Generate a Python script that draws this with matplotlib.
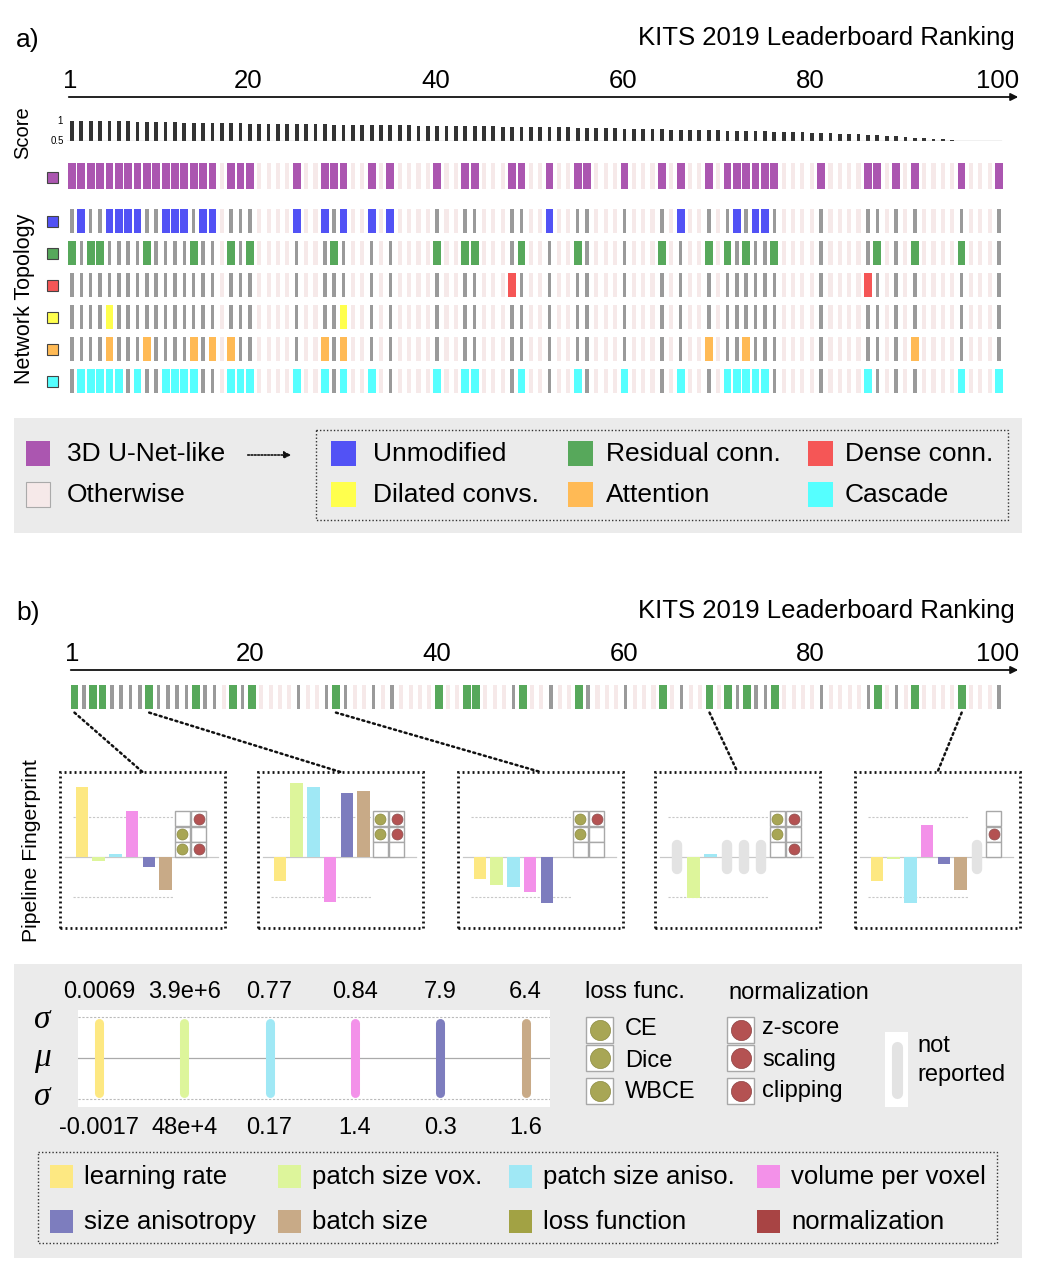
import numpy as np
import matplotlib.pyplot as plt
from matplotlib.patches import Rectangle, ConnectionPatch

plt.rcParams['font.family'] = ['Liberation Sans', 'DejaVu Sans']

W, H = 1040, 1280

# ---------------- data ----------------
ranks = np.arange(1, 101)
rank_ticks = [1, 20, 40, 60, 80, 100]

# leaderboard score (baseline of the score strip is 0.5)
scores = [1.0, 1.0, 1.0, 1.0, 1.0, 1.0, 1.0, 0.983, 0.983, 0.975,
          0.975, 0.975, 0.967, 0.967, 0.958, 0.958, 0.95, 0.95, 0.95, 0.942,
          0.942, 0.942, 0.933, 0.933, 0.933, 0.925, 0.925, 0.925, 0.917, 0.917,
          0.917, 0.908, 0.908, 0.908, 0.9, 0.9, 0.9, 0.892, 0.892, 0.892,
          0.883, 0.883, 0.883, 0.875, 0.875, 0.875, 0.867, 0.867, 0.858, 0.858,
          0.858, 0.85, 0.85, 0.85, 0.842, 0.842, 0.833, 0.833, 0.825, 0.817,
          0.817, 0.808, 0.808, 0.8, 0.792, 0.792, 0.783, 0.783, 0.775, 0.775,
          0.767, 0.767, 0.758, 0.758, 0.75, 0.742, 0.742, 0.733, 0.725, 0.717,
          0.708, 0.7, 0.692, 0.683, 0.675, 0.667, 0.65, 0.633, 0.625, 0.608,
          0.592, 0.575, 0.567, 0.55, 0.533, 0.517, 0.5, 0.5, 0.5, 0.5]

unet_like = [1, 2, 3, 4, 5, 6, 7, 8, 9, 10, 11, 12, 13, 14, 15, 16, 18, 19, 20,
             25, 28, 29, 30, 33, 35, 40, 43, 44, 48, 49, 52, 55, 56, 60, 64, 66,
             69, 71, 72, 73, 74, 75, 76, 81, 86, 87, 89, 91, 96, 100]

topology_names = ['Unmodified', 'Residual conn.', 'Dense conn.',
                  'Dilated convs.', 'Attention', 'Cascade']
unmodified = [2, 5, 6, 7, 8, 11, 12, 13, 15, 16, 25, 28, 30, 33, 35, 52, 66, 72, 74, 75]
residual = [1, 3, 4, 9, 14, 18, 20, 29, 40, 43, 44, 49, 55, 64, 69, 71, 73, 76, 87, 91, 96]
dense = [48, 86]
dilated = [5, 30]
attention = [5, 9, 14, 16, 18, 28, 30, 69, 73, 91]
cascade = [2, 3, 4, 5, 6, 8, 11, 12, 13, 14, 18, 19, 20, 25, 28, 30, 33, 40, 43, 44,
           49, 55, 60, 66, 71, 72, 73, 74, 75, 86, 96, 100]
topologies = [unmodified, residual, dense, dilated, attention, cascade]

# pipeline fingerprints (values in units of sigma, nan = not reported)
fp_ranks = [1, 9, 29, 69, 96]
hp_names = ['learning rate', 'patch size vox.', 'patch size aniso.',
            'volume per voxel', 'size anisotropy', 'batch size']
nan = np.nan
fp_values = [[1.74, -0.10, 0.08, 1.16, -0.25, -0.82],
             [-0.61, 1.85, 1.75, -1.13, 1.59, 1.64],
             [-0.55, -0.69, -0.76, -0.87, -1.15, 0.0],
             [nan, -1.03, 0.07, nan, nan, nan],
             [-0.60, -0.06, -1.16, 0.80, -0.18, -0.82]]
loss_names = ['CE', 'Dice', 'WBCE']
norm_names = ['z-score', 'scaling', 'clipping']
fp_loss = [[0, 1, 1], [1, 1, 0], [1, 1, 0], [1, 1, 0], None]
fp_norm = [[1, 0, 1], [1, 1, 0], [1, 0, 0], [1, 0, 1], [0, 1, 0]]

sigma_hi = ['0.0069', '3.9e+6', '0.77', '0.84', '7.9', '6.4']
sigma_lo = ['-0.0017', '48e+4', '0.17', '1.4', '0.3', '1.6']

# ---------------- colours ----------------
c_unet = '#AB56B0'
c_other = '#F6E9E9'
c_gray = '#9A9A9A'
topo_colors = ['#5252F5', '#57A85B', '#F55656', '#FFFF4D', '#FFBA55', '#55FFFF']
hp_colors = ['#FDE882', '#DDF59B', '#A0E8F5', '#F391E9', '#7D7DBE', '#C8AA87']
c_loss = '#A8A655'
c_norm = '#B45252'
c_loss_leg = '#A2A244'
c_norm_leg = '#A84444'
c_pill = '#E3E3E3'

fig = plt.figure(figsize=(W / 100, H / 100), dpi=100)

ov = fig.add_axes([0, 0, 1, 1])
ov.set_xlim(0, W)
ov.set_ylim(H, 0)
ov.axis('off')


def px_axes(x0, y0, x1, y1):
    return fig.add_axes([x0 / W, 1 - y1 / H, (x1 - x0) / W, (y1 - y0) / H])


def rank_axes(x0, x1, y0, y1):
    ax = px_axes(x0, y0, x1, y1)
    ax.set_xlim(0.5, 100.5)
    ax.set_ylim(0, 1)
    ax.axis('off')
    return ax


def barcode(ax, member, color):
    member = set(member)
    unet = set(unet_like)
    wide = [r for r in ranks if r in unet and r in member]
    grey = [r for r in ranks if r in unet and r not in member]
    light = [r for r in ranks if r not in unet]
    ax.bar(light, 1, width=0.44, color=c_other)
    ax.bar(grey, 1, width=0.38, color=c_gray)
    ax.bar(wide, 1, width=0.84, color=color)


def rank_labels(x0, x1, yc):
    ax = rank_axes(x0, x1, yc - 14, yc + 14)
    for t in rank_ticks:
        ax.text(t - 0.2, 0.5, str(t), ha='center', va='center', fontsize=18.5)


# ================= panel a =================
ov.text(16, 40, 'a)', fontsize=19, va='center')
ov.text(1015, 38, 'KITS 2019 Leaderboard Ranking', fontsize=18.5, ha='right', va='center')
ax_x0, ax_x1 = 67.3, 1003.7
rank_labels(ax_x0, ax_x1, 81)
ov.annotate('', xy=(1021, 97), xytext=(66, 97),
            arrowprops=dict(arrowstyle='-|>', color='#111111', lw=1.3, mutation_scale=11))

# score strip
sax = px_axes(ax_x0, 121.3, ax_x1, 141.3)
sax.set_xlim(0.5, 100.5)
sax.set_ylim(0.5, 1.0)
sax.axis('off')
sax.axhline(0.5, color='#8A8A8A', lw=0.9, xmax=0.997)
sc = np.array(scores)
sax.bar(ranks, sc - 0.5, bottom=0.5, width=0.4, color='#333333')
sax.text(-0.005, 1.0, '1', transform=sax.get_yaxis_transform(), ha='right', va='center', fontsize=7)
sax.text(-0.003, 0.5, '0.5', transform=sax.get_yaxis_transform(), ha='right', va='center', fontsize=7)
ov.text(23, 133, 'Score', rotation=90, ha='center', va='center', fontsize=14.5)

# 3D U-Net-like row
uax = rank_axes(ax_x0, ax_x1, 163, 189)
barcode(uax, unet_like, c_unet)
ov.add_patch(Rectangle((47, 171.5), 11, 11, fc=c_unet, ec='#444444', lw=0.8))

# topology rows
for i, (members, col) in enumerate(zip(topologies, topo_colors)):
    y0 = 209 + 32 * i
    tax = rank_axes(ax_x0, ax_x1, y0, y0 + 24)
    barcode(tax, members, col)
    ov.add_patch(Rectangle((47, y0 + 6.5), 11, 11, fc=col, ec='#444444', lw=0.8))
ov.text(25, 299, 'Network Topology', rotation=90, ha='center', va='center', fontsize=15.5)

# legend a
ov.add_patch(Rectangle((14, 418), 1008, 115, fc='#EBEBEB', ec='none'))
ov.add_patch(Rectangle((26, 441), 24, 25, fc=c_unet, ec='none'))
ov.add_patch(Rectangle((26, 482), 24, 25, fc=c_other, ec='#AAAAAA', lw=0.8))
ov.text(67, 454, '3D U-Net-like', fontsize=19, va='center')
ov.text(67, 495, 'Otherwise', fontsize=19, va='center')
ov.annotate('', xy=(294, 455), xytext=(245, 455),
            arrowprops=dict(arrowstyle='-|>', color='#111111', lw=1.2, ls=(0, (1, 1)),
                            mutation_scale=10))
ov.add_patch(Rectangle((316, 430), 692, 90, fc='none', ec='#333333', lw=1.0, ls=(0, (1, 1.5))))
leg_x = [331, 568, 808]
leg_tx = [373, 606, 845]
for i, (name, col) in enumerate(zip(topology_names, topo_colors)):
    cy = 441 if i < 3 else 482
    ov.add_patch(Rectangle((leg_x[i % 3], cy), 25, 25, fc=col, ec='none'))
    ov.text(leg_tx[i % 3], cy + 13, name, fontsize=19, va='center')

# ================= panel b =================
ov.text(16, 613, 'b)', fontsize=19, va='center')
ov.text(1015, 611, 'KITS 2019 Leaderboard Ranking', fontsize=18.5, ha='right', va='center')
bx0, bx1 = 69.8, 1003.7
rank_labels(bx0, bx1, 654)
ov.annotate('', xy=(1021, 670), xytext=(68, 670),
            arrowprops=dict(arrowstyle='-|>', color='#111111', lw=1.3, mutation_scale=11))
bax = rank_axes(bx0, bx1, 685, 709)
barcode(bax, residual, topo_colors[1])

box_left = [60, 258, 458, 655, 855]
row_c = [0.96, 0.575, 0.19]
for b in range(5):
    x0 = box_left[b]
    fax = px_axes(x0, 772, x0 + 165, 928)
    fax.set_xlim(-1.32, 8.56)
    fax.set_ylim(-1.775, 2.125)
    fax.set_xticks([])
    fax.set_yticks([])
    for s in fax.spines.values():
        s.set_visible(False)
    fax.add_patch(Rectangle((0, 0), 1, 1, transform=fax.transAxes, fc='none', ec='#111111',
                            lw=2.0, ls=(0, (0.7, 1.1)), clip_on=False))
    fax.plot([-1.0, 8.14], [0, 0], color='#C8C8C8', lw=0.9, zorder=1)
    for yy in (1, -1):
        fax.plot([-0.54, 5.45], [yy, yy], color='#C8C8C8', lw=0.8, ls=(0, (2, 1.5)), zorder=1)
    for k, v in enumerate(fp_values[b]):
        if np.isnan(v):
            fax.plot([k, k], [-0.3, 0.3], lw=7.5, color=c_pill, solid_capstyle='round', zorder=2)
        else:
            fax.bar(k, v, width=0.76, color=hp_colors[k], zorder=2)
    cols = [(6, fp_loss[b], c_loss), (7, fp_norm[b], c_norm)]
    for slot, flags, col in cols:
        if flags is None:
            fax.plot([slot, slot], [-0.3, 0.3], lw=7.5, color=c_pill, solid_capstyle='round', zorder=2)
            continue
        for j, f in enumerate(flags):
            fax.add_patch(Rectangle((slot - 0.45, row_c[j] - 0.1875), 0.9, 0.375,
                                    fc='white', ec='#A8A8A8', lw=1.0, zorder=3))
            if f:
                fax.scatter([slot], [row_c[j]], s=62, color=col,
                            edgecolors='#8A5050' if col == c_norm else '#8A8A40',
                            linewidths=0.5, zorder=4)
    con = ConnectionPatch(xyA=(fp_ranks[b], -0.15), coordsA=bax.transData,
                          xyB=(0.5, 1.0), coordsB=fax.transAxes,
                          color='#111111', lw=1.8, ls=(0, (0.8, 1.4)))
    fig.add_artist(con)

ov.text(32, 851, 'Pipeline Fingerprint', rotation=90, ha='center', va='center', fontsize=15.3)

# legend b
ov.add_patch(Rectangle((14, 964), 1008, 294, fc='#EBEBEB', ec='none'))
gax = px_axes(78, 1010, 550, 1107)
gax.set_facecolor('white')
gax.set_xlim(-0.246, 5.287)
gax.set_ylim(-1.195, 1.17)
gax.set_xticks([])
gax.set_yticks([])
for s in gax.spines.values():
    s.set_visible(False)
gax.axhline(0, color='#AAAAAA', lw=0.9)
gax.axhline(1, color='#BBBBBB', lw=0.8, ls=(0, (2, 1.5)))
gax.axhline(-1, color='#BBBBBB', lw=0.8, ls=(0, (2, 1.5)))
for k in range(6):
    gax.plot([k, k], [-0.86, 0.86], lw=6.5, color=hp_colors[k], solid_capstyle='round')
    gax.annotate(sigma_hi[k], (k, 1.17), xytext=(0, 13), textcoords='offset points',
                 ha='center', va='center', fontsize=17, annotation_clip=False)
    gax.annotate(sigma_lo[k], (k, -1.195), xytext=(0, -15), textcoords='offset points',
                 ha='center', va='center', fontsize=17, annotation_clip=False)
for lab, yy in (('σ', 1020), ('μ', 1058), ('σ', 1097)):
    ov.text(42, yy, lab, fontsize=24, style='italic', family=['Liberation Serif', 'DejaVu Serif'],
            ha='center', va='center')

ov.text(585, 992, 'loss func.', fontsize=17, va='center')
ov.text(728, 993, 'normalization', fontsize=17, va='center')
sq_y = [1017, 1045, 1078]
txt_y = [1029, 1061, 1092]
for j in range(3):
    ov.add_patch(Rectangle((586, sq_y[j]), 27, 26, fc='white', ec='#A8A8A8', lw=1.0))
    ov.add_patch(Rectangle((727, sq_y[j]), 27, 26, fc='white', ec='#A8A8A8', lw=1.0))
ov.scatter([599.5] * 3, [s + 13 for s in sq_y], s=210, color=c_loss, edgecolors='#8A8A40', linewidths=0.5, zorder=5)
ov.scatter([740.5] * 3, [s + 13 for s in sq_y], s=210, color=c_norm, edgecolors='#8A4040', linewidths=0.5, zorder=5)
for j in range(3):
    ov.text(625, txt_y[j], loss_names[j], fontsize=17, va='center')
    ov.text(762, txt_y[j] - 1, norm_names[j], fontsize=17, va='center')

ov.add_patch(Rectangle((885, 1032), 23, 75, fc='white', ec='none'))
ov.plot([896.5, 896.5], [1047, 1093], lw=8, color=c_pill, solid_capstyle='round')
ov.text(917, 1046, 'not', fontsize=17, va='center')
ov.text(917, 1075, 'reported', fontsize=17, va='center')

ov.add_patch(Rectangle((38, 1152), 959, 91, fc='none', ec='#333333', lw=1.0, ls=(0, (1, 1.5))))
leg_names = hp_names + ['loss function', 'normalization']
leg_cols = hp_colors + [c_loss_leg, c_norm_leg]
sq_x = [50, 278, 509, 757]
for i, (name, col) in enumerate(zip(leg_names, leg_cols)):
    cx = sq_x[i % 4]
    cy = 1165 if i < 4 else 1210
    ov.add_patch(Rectangle((cx, cy), 23, 23, fc=col, ec='none'))
    ov.text(cx + 34, cy + 12, name, fontsize=18.5, va='center')

fig.savefig('out.png', dpi=100)
